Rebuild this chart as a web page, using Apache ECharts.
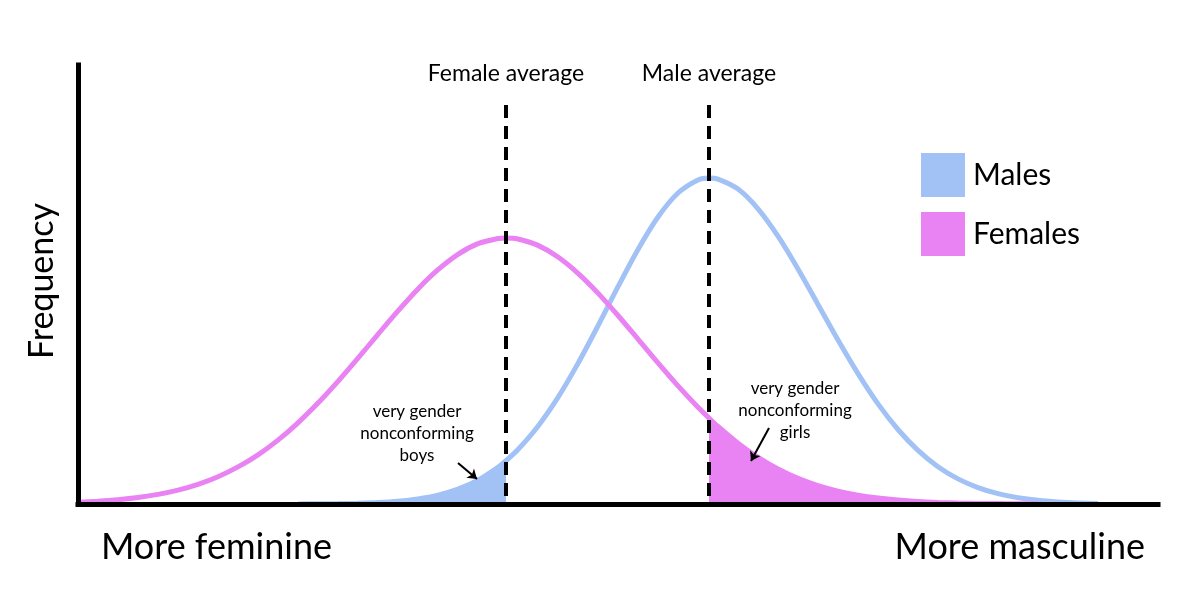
<!DOCTYPE html>
<html>
<head>
    <meta charset="utf-8">
    <title>Gender distribution</title>
    <script src="https://cdn.jsdelivr.net/npm/echarts@6/dist/echarts.min.js"></script>
    <style>
        html, body { margin: 0; padding: 0; background: #fff; }
    </style>
</head>
<body>
<div id="main" style="width: 1200px;height:607px;"></div>

<script type="text/javascript">
    // position along the feminine -> masculine scale (arbitrary units)
    var scoreX = [0, 20, 40, 60, 80, 100, 120, 140, 160, 180, 200, 220, 240, 260, 280, 300, 320, 340, 360, 380,
        400, 420, 428, 440, 460, 480, 500, 520, 540, 560, 580, 600, 620, 631, 640, 660, 680, 700, 720, 740,
        760, 780, 800, 820, 840, 860, 880, 900, 920, 940, 960, 980, 1000, 1020, 1040, 1060, 1080];

    // frequency
    var femaleFreq = [1.7, 2.8, 4.3, 6.5, 9.6, 13.9, 19.7, 27.3, 37.1, 49.2, 63.9, 81.2, 100.9, 122.6, 145.8, 169.7, 193.1, 215.1, 234.3, 249.7,
        260.3, 265.5, 266, 265.0, 258.6, 247.0, 230.7, 210.9, 188.5, 164.9, 141.1, 118.1, 96.7, 85.9, 77.5, 60.8, 46.6, 35.0, 25.6, 18.4,
        12.9, 8.9, 6.0, 3.9, 2.5, 1.6, 1.0, 0.6, 0.4, 0.2, 0.1, null, null, null, null, null, null];

    var maleFreq = [null, null, null, null, null, null, null, null, null, null, null, 0.1, 0.2, 0.4, 0.8, 1.5, 2.8, 5.1, 8.9, 14.9,
        23.8, 36.8, 43.3, 54.5, 77.8, 106.6, 140.6, 178.2, 217.3, 254.6, 287.0, 311.0, 324.1, 326, 324.9, 314.9, 295.2, 267.8, 235.0, 199.5,
        163.9, 130.3, 100.1, 74.5, 53.6, 37.3, 25.1, 16.4, 10.3, 6.3, 3.7, 2.1, 1.1, 0.6, null, null, null];

    var femaleAvg = 428;
    var maleAvg = 631;
    var avgLineTop = 399;

    var blue = '#a2c2f6';
    var pink = '#e983f3';
    var fontName = 'Lato';

    function pairs(vals, keep) {
        var out = [];
        for (var i = 0; i < scoreX.length; i++) {
            if (keep && !keep(scoreX[i])) continue;
            out.push([scoreX[i], vals[i]]);
        }
        return out;
    }

    var myChart = echarts.init(document.getElementById('main'));

    myChart.setOption({
        animation: false,
        grid: { left: 78, right: 42, top: 65, bottom: 103 },
        legend: {
            data: ['Males', 'Females'],
            orient: 'vertical',
            left: 916,
            top: 148,
            icon: 'rect',
            itemWidth: 44,
            itemHeight: 44,
            itemGap: 15,
            textStyle: { fontFamily: fontName, fontSize: 30, color: '#000', padding: [0, 0, 0, 3] }
        },
        xAxis: {
            type: 'value', min: 0, max: 1080, z: 5,
            axisLine: { lineStyle: { color: '#000', width: 5, cap: 'square' } },
            axisTick: { show: false }, axisLabel: { show: false }, splitLine: { show: false }
        },
        yAxis: {
            type: 'value', min: 0, max: 439, z: 5,
            axisLine: { show: true, lineStyle: { color: '#000', width: 5, cap: 'square' } },
            axisTick: { show: false }, axisLabel: { show: false }, splitLine: { show: false }
        },
        graphic: [
            { type: 'text', x: 101, y: 547, style: { text: 'More feminine', font: '36px ' + fontName, fill: '#000', verticalAlign: 'middle' } },
            { type: 'text', x: 1145, y: 547, style: { text: 'More masculine', font: '36px ' + fontName, fill: '#000', align: 'right', verticalAlign: 'middle' } },
            { type: 'text', x: 42, y: 281, rotation: Math.PI / 2, style: { text: 'Frequency', font: '34px ' + fontName, fill: '#000', align: 'center', verticalAlign: 'middle' } },
            { type: 'text', x: 417, y: 434, style: { text: 'very gender\nnonconforming\nboys', font: '17px ' + fontName, lineHeight: 22, fill: '#000', align: 'center', verticalAlign: 'middle' } },
            { type: 'text', x: 795, y: 411, style: { text: 'very gender\nnonconforming\ngirls', font: '17px ' + fontName, lineHeight: 22, fill: '#000', align: 'center', verticalAlign: 'middle' } }
        ],
        series: [
            {
                name: 'boysTail', type: 'line', smooth: 0.3, showSymbol: false, z: 1,
                data: pairs(maleFreq, function (x) { return x <= femaleAvg; }),
                lineStyle: { width: 0 }, areaStyle: { color: blue, opacity: 1 },
                markLine: {
                    silent: true, symbol: ['none', 'arrow'], symbolSize: 9,
                    lineStyle: { color: '#000', width: 2, type: 'solid' }, label: { show: false },
                    data: [[{ coord: [380, 41] }, { coord: [399, 25] }]]
                }
            },
            {
                name: 'girlsTail', type: 'line', smooth: 0.3, showSymbol: false, z: 1,
                data: pairs(femaleFreq, function (x) { return x >= maleAvg; }),
                lineStyle: { width: 0 }, areaStyle: { color: pink, opacity: 1 },
                markLine: {
                    silent: true, symbol: ['none', 'arrow'], symbolSize: 9,
                    lineStyle: { color: '#000', width: 2, type: 'solid' }, label: { show: false },
                    data: [[{ coord: [691, 76] }, { coord: [673, 43] }]]
                }
            },
            {
                name: 'Males', type: 'line', smooth: 0.3, showSymbol: false, z: 2,
                color: blue, itemStyle: { color: blue },
                lineStyle: { color: blue, width: 5 },
                data: pairs(maleFreq)
            },
            {
                name: 'Females', type: 'line', smooth: 0.3, showSymbol: false, z: 3,
                color: pink, itemStyle: { color: pink },
                lineStyle: { color: pink, width: 5 },
                data: pairs(femaleFreq)
            },
            {
                name: 'femaleAvgLine', type: 'line', symbol: 'circle', symbolSize: 0, z: 4,
                lineStyle: { color: '#000', width: 4, type: [13, 8] },
                data: [
                    { value: [femaleAvg, avgLineTop], label: { show: true, position: 'top', distance: 20, formatter: 'Female average', fontFamily: fontName, fontSize: 23, color: '#000' } },
                    [femaleAvg, 0]
                ]
            },
            {
                name: 'maleAvgLine', type: 'line', symbol: 'circle', symbolSize: 0, z: 4,
                lineStyle: { color: '#000', width: 4, type: [13, 8] },
                data: [
                    { value: [maleAvg, avgLineTop], label: { show: true, position: 'top', distance: 20, formatter: 'Male average', fontFamily: fontName, fontSize: 23, color: '#000' } },
                    [maleAvg, 0]
                ]
            }
        ]
    });
</script>

</body>
</html>
